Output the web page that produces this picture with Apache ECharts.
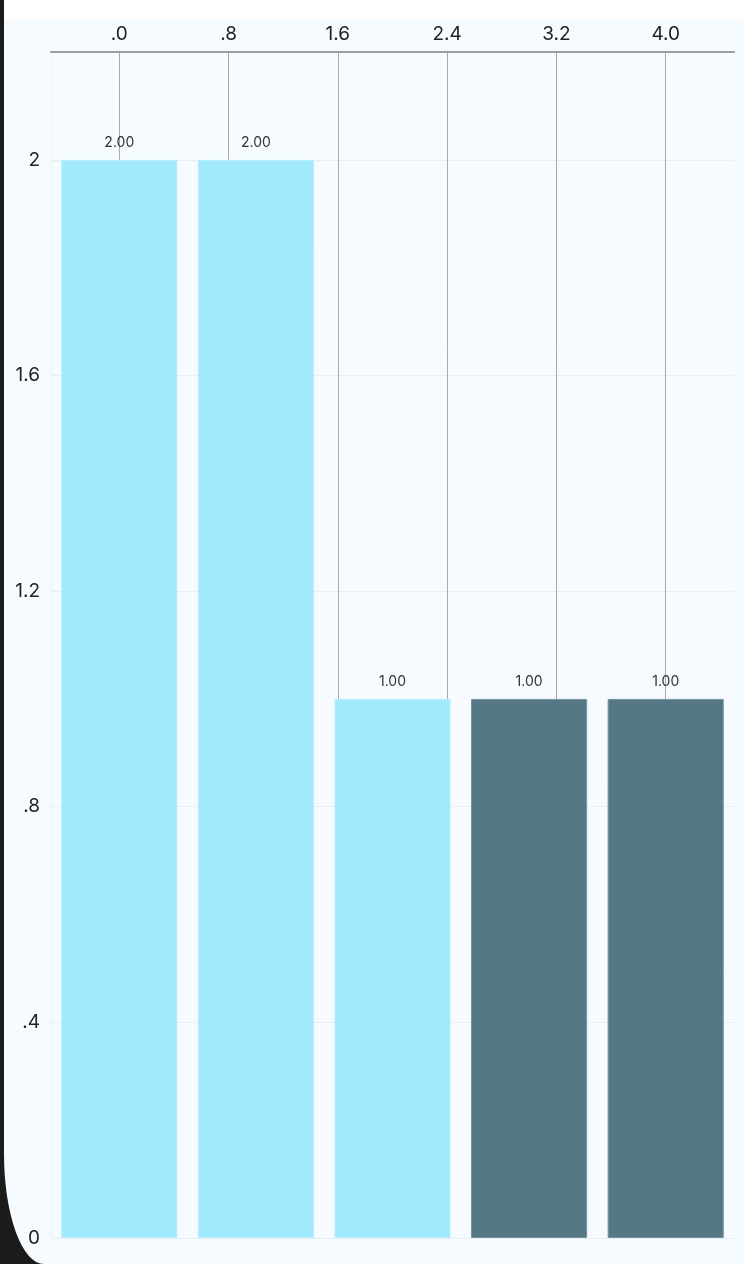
<!DOCTYPE html>
<html>
<head>
<meta charset="utf-8">
<title>Bar chart</title>
<script src="https://cdn.jsdelivr.net/npm/echarts@6/dist/echarts.min.js"></script>
<style>
  html, body { margin: 0; padding: 0; background: #1b1b1b; }
  #frame {
    position: absolute; left: 4px; top: 0; width: 740px; height: 1264px;
    background: linear-gradient(#ffffff 0, #ffffff 20px, #f6fbff 20px);
    border-bottom-left-radius: 40px 110px;
  }
  #chart { position: absolute; left: 0; top: 0; width: 744px; height: 1264px; }
</style>
</head>
<body>
<div id="frame"></div>
<div id="chart"></div>
<script>
const categories = ['A', 'B', 'C', 'D', 'E'];
// first three bars (light) and last two bars (dark)
const lightValues = [2, 2, 1, null, null];
const darkValues = [null, null, null, 1, 1];
const topTicks = [0, 0.8, 1.6, 2.4, 3.2, 4.0];

function stripZero(s) {
  return s.replace(/^0\./, '.');
}

const chart = echarts.init(document.getElementById('chart'));

const barLabel = {
  show: true,
  position: 'top',
  distance: 10,
  fontFamily: 'Inter',
  fontSize: 14,
  color: '#333',
  formatter: p => Number(p.value).toFixed(2)
};

chart.setOption({
  backgroundColor: 'transparent',
  animation: false,
  textStyle: { fontFamily: 'Inter' },
  grid: { left: 51, right: 10, top: 52, bottom: 26 },
  xAxis: [
    {
      type: 'category',
      data: categories,
      show: false
    },
    {
      type: 'value',
      position: 'top',
      min: -0.5,
      max: 4.5,
      axisLine: { show: true, onZero: false, lineStyle: { color: '#9e9e9e', width: 2 } },
      axisTick: { show: false, customValues: topTicks },
      axisLabel: {
        customValues: topTicks,
        margin: 8,
        fontSize: 19,
        color: '#222',
        formatter: v => stripZero(v.toFixed(1))
      },
      splitLine: { show: true, showMinLine: true, showMaxLine: true, lineStyle: { color: '#a9a9a9', width: 1 } }
    }
  ],
  yAxis: {
    type: 'value',
    min: 0,
    max: 2.2,
    interval: 0.4,
    axisLine: { show: true, onZero: false, lineStyle: { color: '#ebf0f4' } },
    axisTick: { show: false },
    axisLabel: {
      margin: 11,
      fontSize: 19,
      color: '#222',
      formatter: v => (v > 2.0001 ? '' : stripZero(String(v)))
    },
    splitLine: { lineStyle: { color: '#e9eef3' } }
  },
  series: [
    {
      type: 'bar',
      xAxisIndex: 0,
      data: lightValues,
      barCategoryGap: '15%',
      barGap: '-100%',
      itemStyle: { color: '#a3e9fd', borderColor: '#b8eefd', borderWidth: 1 },
      label: barLabel
    },
    {
      type: 'bar',
      xAxisIndex: 0,
      data: darkValues,
      barCategoryGap: '15%',
      barGap: '-100%',
      itemStyle: { color: '#557884', borderColor: '#7393a0', borderWidth: 1 },
      label: barLabel
    }
  ]
});
</script>
</body>
</html>
